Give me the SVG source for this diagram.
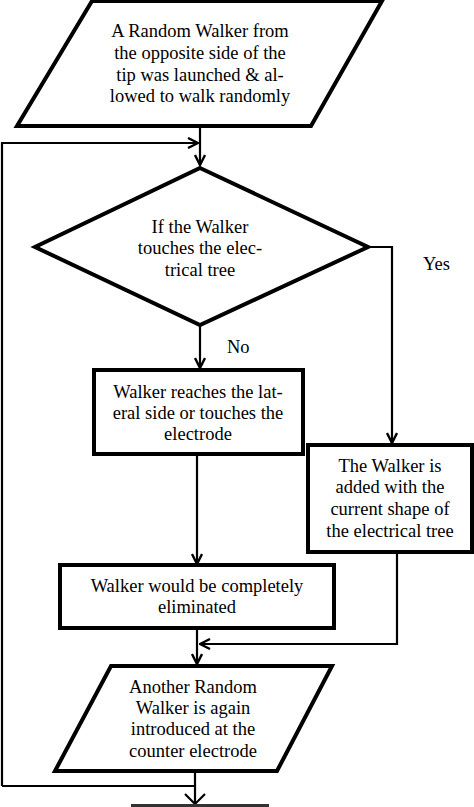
<svg xmlns="http://www.w3.org/2000/svg" width="474" height="807" viewBox="0 0 474 807">
<defs>
<marker id="arr" viewBox="0 0 12 12" refX="11" refY="6" markerWidth="12" markerHeight="12" markerUnits="userSpaceOnUse" orient="auto">
<path d="M1,1 L11,6 L1,11" fill="none" stroke="#000" stroke-width="2.4"/>
</marker>
</defs>
<rect width="474" height="807" fill="#fff"/>
<g id="connectors" fill="none" stroke="#000" stroke-width="2.2">
<path d="M200,127 V165" marker-end="url(#arr)"/>
<path d="M2,786 V143 H198" marker-end="url(#arr)"/>
<path d="M200,325 V368" marker-end="url(#arr)"/>
<path d="M368,247 H392 V443" marker-end="url(#arr)"/>
<path d="M197,454 V564" marker-end="url(#arr)"/>
<path d="M397,552 V644 H200" marker-end="url(#arr)"/>
<path d="M197,628 V664" marker-end="url(#arr)"/>
<path d="M195,771 V804"/>
<path d="M185,794 L195,804 L205,794"/>
<path d="M2,786 H195"/>
</g>
<g id="labels">
<text x="423" y="270" style="font-family:serif;font-size:18.5px">Yes</text>
<text x="227" y="353" style="font-family:serif;font-size:18.5px">No</text>
</g>
<g id="start">
<polygon points="92,1 382,1 311,126 17,126" fill="#fff" stroke="#000" stroke-width="4"/>
<text x="200" y="37" text-anchor="middle" style="font-family:serif;font-size:18.5px">A Random Walker from</text>
<text x="200" y="59" text-anchor="middle" style="font-family:serif;font-size:18.5px">the opposite side of the</text>
<text x="200" y="81" text-anchor="middle" style="font-family:serif;font-size:18.5px">tip was launched &amp; al-</text>
<text x="200" y="102" text-anchor="middle" style="font-family:serif;font-size:18.5px">lowed to walk randomly</text>
</g>
<g id="decision">
<polygon points="200,168 368,247 200,325 35,247" fill="#fff" stroke="#000" stroke-width="4"/>
<text x="200" y="233" text-anchor="middle" style="font-family:serif;font-size:18.5px">If the Walker</text>
<text x="200" y="254" text-anchor="middle" style="font-family:serif;font-size:18.5px">touches the elec-</text>
<text x="200" y="276" text-anchor="middle" style="font-family:serif;font-size:18.5px">trical tree</text>
</g>
<g id="lateral">
<rect x="94" y="370" width="209" height="84" fill="#fff" stroke="#000" stroke-width="4"/>
<text x="198" y="398" text-anchor="middle" style="font-family:serif;font-size:18.5px">Walker reaches the lat-</text>
<text x="198" y="419" text-anchor="middle" style="font-family:serif;font-size:18.5px">eral side or touches the</text>
<text x="198" y="440" text-anchor="middle" style="font-family:serif;font-size:18.5px">electrode</text>
</g>
<g id="added">
<rect x="308" y="445" width="164" height="107" fill="#fff" stroke="#000" stroke-width="4"/>
<text x="390" y="472" text-anchor="middle" style="font-family:serif;font-size:18.5px">The Walker is</text>
<text x="390" y="493" text-anchor="middle" style="font-family:serif;font-size:18.5px">added with the</text>
<text x="390" y="515" text-anchor="middle" style="font-family:serif;font-size:18.5px">current shape of</text>
<text x="390" y="537" text-anchor="middle" style="font-family:serif;font-size:18.5px">the electrical tree</text>
</g>
<g id="eliminated">
<rect x="60" y="565" width="274" height="63" fill="#fff" stroke="#000" stroke-width="4"/>
<text x="197" y="592" text-anchor="middle" style="font-family:serif;font-size:18.5px">Walker would be completely</text>
<text x="197" y="613" text-anchor="middle" style="font-family:serif;font-size:18.5px">eliminated</text>
</g>
<g id="another">
<polygon points="111,666 332,666 277,771 55,771" fill="#fff" stroke="#000" stroke-width="4"/>
<text x="193" y="693" text-anchor="middle" style="font-family:serif;font-size:18.5px">Another Random</text>
<text x="193" y="714" text-anchor="middle" style="font-family:serif;font-size:18.5px">Walker is again</text>
<text x="193" y="735" text-anchor="middle" style="font-family:serif;font-size:18.5px">introduced at the</text>
<text x="193" y="757" text-anchor="middle" style="font-family:serif;font-size:18.5px">counter electrode</text>
</g>
<g id="next">
<rect x="133" y="806" width="134" height="40" fill="#fff" stroke="#333" stroke-width="4"/>
</g>
</svg>
